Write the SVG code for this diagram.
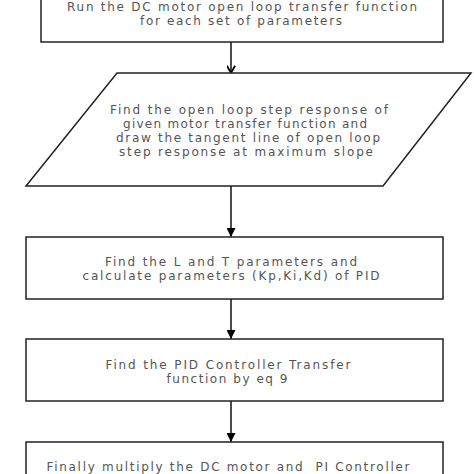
<svg xmlns="http://www.w3.org/2000/svg" width="474" height="474" viewBox="0 0 474 474">
<defs>
<marker id="ah" viewBox="0 0 10 10" refX="10" refY="5" markerWidth="9" markerHeight="9" markerUnits="userSpaceOnUse" orient="auto">
<path d="M0,0 L10,5 L0,10 z" fill="#000"/>
</marker>
<marker id="av" viewBox="0 0 10 10" refX="9" refY="5" markerWidth="9" markerHeight="9" markerUnits="userSpaceOnUse" orient="auto">
<path d="M1,0.5 L9,5 L1,9.5" fill="none" stroke="#000" stroke-width="2"/>
</marker>
<style>
.s{fill:#fff;stroke:#222;stroke-width:1.5}
.t{font-family:"DejaVu Sans","Liberation Sans",sans-serif;font-size:12px;fill:#555;text-anchor:middle}
.c{stroke:#111;stroke-width:1.5;fill:none}
</style>
</defs>
<rect width="474" height="474" fill="#fff"/>
<g id="connectors">
<line class="c" x1="231" y1="42" x2="231" y2="73" marker-end="url(#av)"/>
<line class="c" x1="231" y1="186" x2="231" y2="237" marker-end="url(#ah)"/>
<line class="c" x1="231" y1="299" x2="231" y2="339" marker-end="url(#ah)"/>
<line class="c" x1="231" y1="401" x2="231" y2="442" marker-end="url(#ah)"/>
</g>
<g id="n1">
<rect class="s" x="41" y="-10" width="402" height="52"/>
<text class="t" x="242" y="11" textLength="350" lengthAdjust="spacing">Run the DC motor open loop transfer function</text>
<text class="t" x="241" y="25" textLength="202" lengthAdjust="spacing">for each set of parameters</text>
</g>
<g id="n2">
<polygon class="s" points="117,73 471,73 383,186 26,186"/>
<text class="t" x="249" y="114" textLength="278" lengthAdjust="spacing">Find the open loop step response of</text>
<text class="t" x="245" y="128" textLength="244" lengthAdjust="spacing">given motor transfer function and</text>
<text class="t" x="248" y="142" textLength="264" lengthAdjust="spacing">draw the tangent line of open loop</text>
<text class="t" x="246" y="156" textLength="254" lengthAdjust="spacing">step response at maximum slope</text>
</g>
<g id="n3">
<rect class="s" x="26" y="237" width="417" height="62"/>
<text class="t" x="231" y="266" textLength="252" lengthAdjust="spacing">Find the L and T parameters and</text>
<text class="t" x="231" y="280" textLength="297" lengthAdjust="spacing">calculate parameters (Kp,Ki,Kd) of PID</text>
</g>
<g id="n4">
<rect class="s" x="26" y="339" width="417" height="62"/>
<text class="t" x="228" y="369" textLength="245" lengthAdjust="spacing">Find the PID Controller Transfer</text>
<text class="t" x="227" y="383" textLength="121" lengthAdjust="spacing">function by eq 9</text>
</g>
<g id="n5">
<rect class="s" x="26" y="442" width="417" height="50"/>
<text class="t" x="228" y="471" textLength="363" lengthAdjust="spacing">Finally multiply the DC motor and&#160; PI Controller</text>
</g>
</svg>
